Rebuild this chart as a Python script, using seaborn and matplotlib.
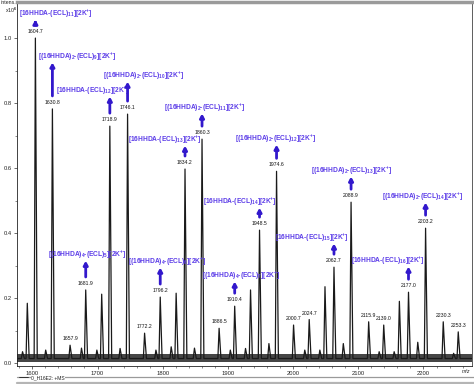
import numpy as np
import pandas as pd
import matplotlib
matplotlib.use("Agg")
import matplotlib.pyplot as plt
from matplotlib.lines import Line2D
import seaborn as sns

# ---------------- data ----------------
# labelled peaks (m/z, relative intensity x10^6)
labeled_mz = [1604.7, 1630.8, 1657.9, 1681.9, 1718.9, 1746.1, 1772.2, 1796.2,
              1834.2, 1860.3, 1886.5, 1910.4, 1948.5, 1974.6, 2000.7, 2024.7,
              2062.7, 2088.9, 2115.9, 2139.0, 2177.0, 2203.2, 2230.3, 2253.3]
labeled_int = [1.000, 0.782, 0.055, 0.225, 0.729, 0.766, 0.092, 0.203,
               0.597, 0.689, 0.107, 0.175, 0.409, 0.590, 0.117, 0.134,
               0.295, 0.495, 0.127, 0.117, 0.218, 0.415, 0.127, 0.096]
# unlabelled peaks
other_mz = [1585.0, 1592.3, 1620.5, 1675.4, 1699.0, 1706.4, 1734.6, 1789.6,
            1813.0, 1820.6, 1848.7, 1903.7, 1927.0, 1934.7, 1962.9, 2017.9,
            2041.0, 2048.9, 2077.0, 2132.0, 2155.0, 2163.0, 2191.2, 2246.2]
other_int = [0.035, 0.184, 0.040, 0.046, 0.040, 0.212, 0.045, 0.040,
             0.050, 0.215, 0.046, 0.040, 0.045, 0.225, 0.060, 0.040,
             0.040, 0.235, 0.060, 0.035, 0.035, 0.190, 0.064, 0.030]

# annotated species (peak m/z, formula)
ann_mz = [1604.7, 1630.8, 1718.9, 1746.1, 1834.2, 1860.3, 1974.6, 1948.5,
          2088.9, 2062.7, 2203.2, 2177.0, 1681.9, 1796.2, 1910.4]
ann_text = [
    r"[16HHDA-(ECL)$_{11}$][2K$^{+}$]",
    r"[(16HHDA)$_{2}$-(ECL)$_{9}$][2K$^{+}$]",
    r"[16HHDA-(ECL)$_{12}$][2K$^{+}$]",
    r"[(16HHDA)$_{2}$-(ECL)$_{10}$][2K$^{+}$]",
    r"[16HHDA-(ECL)$_{13}$][2K$^{+}$]",
    r"[(16HHDA)$_{2}$-(ECL)$_{11}$][2K$^{+}$]",
    r"[(16HHDA)$_{2}$-(ECL)$_{12}$][2K$^{+}$]",
    r"[16HHDA-(ECL)$_{14}$][2K$^{+}$]",
    r"[(16HHDA)$_{2}$-(ECL)$_{13}$][2K$^{+}$]",
    r"[16HHDA-(ECL)$_{15}$][2K$^{+}$]",
    r"[(16HHDA)$_{2}$-(ECL)$_{14}$][2K$^{+}$]",
    r"[16HHDA-(ECL)$_{16}$][2K$^{+}$]",
    r"[(16HHDA)$_{4}$-(ECL)$_{5}$][2K$^{+}$]",
    r"[(16HHDA)$_{4}$-(ECL)$_{6}$][2K$^{+}$]",
    r"[(16HHDA)$_{4}$-(ECL)$_{7}$][2K$^{+}$]",
]
# layout of the formula labels (text centre, data coords)
ann_tx = [1636.3, 1668.6, 1693.1, 1770.0, 1803.5, 1863.6, 1972.4, 1918.6,
          2090.3, 2029.0, 2197.8, 2145.6, 1684.0, 1806.6, 1920.0]
ann_ty = [1.074, 0.942, 0.837, 0.883, 0.686, 0.785, 0.689, 0.495,
          0.591, 0.385, 0.511, 0.314, 0.332, 0.311, 0.268]

xticks = [1600, 1700, 1800, 1900, 2000, 2100, 2200]
yticks = [0.0, 0.2, 0.4, 0.6, 0.8, 1.0]

# ---------------- style ----------------
sns.set_style("white")
plt.rcParams["font.family"] = ["Liberation Sans", "DejaVu Sans"]
plt.rcParams["mathtext.fontset"] = "custom"
plt.rcParams["mathtext.rm"] = "Liberation Sans:bold"
plt.rcParams["mathtext.it"] = "Liberation Sans:bold"
plt.rcParams["mathtext.bf"] = "Liberation Sans:bold"

fig = plt.figure(figsize=(4.74, 3.84), dpi=100)
ax = fig.add_axes([17 / 474, 1 - 366 / 384, 455 / 474, 364 / 384])

# profile spectrum built from the peak lists
base = 0.014
peaks = sorted(zip(labeled_mz + other_mz, labeled_int + other_int))
px, py = [1576.0], [base]
hw = 1.9
for m, h in peaks:
    px += [m - hw, m, m + hw * 1.5]
    py += [base, h, base]
px.append(2275.0)
py.append(base)
spec = pd.DataFrame({"mz": px, "intens": py})

ax.fill_between([1576, 2275], 0.004, 0.027, color="#464646", lw=0, zorder=1)
sns.lineplot(data=spec, x="mz", y="intens", estimator=None, sort=False,
             color="#1a1a1a", lw=0.9, ax=ax, zorder=2)

ax.set_xlim(1576.5, 2274.4)
ax.set_ylim(-0.009, 1.111)
ax.set_xlabel("")
ax.set_ylabel("")
ax.set_xticks(xticks)
ax.set_xticklabels([str(t) for t in xticks])
ax.set_xticks(np.arange(1580, 2275, 20), minor=True)
ax.set_yticks(yticks)
ax.set_yticklabels([f"{t:.1f}" for t in yticks])
ax.set_yticks(np.arange(0.1, 1.1, 0.2), minor=True)
ax.tick_params(axis="both", which="major", labelsize=4.2, length=2.2, width=0.5,
               color="#333333", pad=1.5, direction="out")
ax.tick_params(axis="both", which="minor", length=1.3, width=0.4, color="#333333")
ax.tick_params(axis="x", bottom=True, which="both")
ax.tick_params(axis="y", left=True, which="both")

for s in ["left", "bottom"]:
    ax.spines[s].set_color("#222222")
    ax.spines[s].set_linewidth(0.6)
ax.spines["right"].set_color("#444444")
ax.spines["right"].set_linewidth(0.6)
ax.spines["top"].set_color("#9a9a9a")
ax.spines["top"].set_linewidth(2.5)

# peak numbers
for m, h in zip(labeled_mz, labeled_int):
    ax.text(m, h + 0.012, f"{m:.1f}", ha="center", va="bottom", fontsize=3.7,
            color="#111111", zorder=4)

# formula labels with arrows
txt_col = "#5c3de8"
arr_col = "#3218cc"
inten_of = dict(zip(labeled_mz, labeled_int))
for m, t, tx, ty in zip(ann_mz, ann_text, ann_tx, ann_ty):
    h = inten_of[m]
    ax.text(tx, ty, t, ha="center", va="center", fontsize=4.8,
            fontweight="bold", color=txt_col, zorder=5)
    ax.annotate("", xy=(m, ty - 0.017), xytext=(m, h + 0.04),
                arrowprops=dict(arrowstyle="-|>,head_length=0.22,head_width=0.12",
                                lw=2.0, color=arr_col, shrinkA=0, shrinkB=0),
                zorder=5)

# axis captions
fig.text(1 / 474, 1 - 3 / 384, "intens.", fontsize=3.8, ha="left", va="center",
         color="#222222")
fig.text(5 / 474, 1 - 10 / 384, r"x10$^{6}$", fontsize=3.8, ha="left", va="center",
         color="#222222")
ax.text(2266, -0.018, "m/z", fontsize=3.8, style="italic", ha="center",
        va="top", color="#222222")

# legend strip at the bottom
fig.add_artist(Line2D([17 / 474, 1.0], [1 - 377 / 384] * 2, color="#9a9a9a",
                      lw=0.9, transform=fig.transFigure))
fig.add_artist(Line2D([17 / 474, 1.0], [1 - 383 / 384] * 2, color="#b5b5b5",
                      lw=1.6, transform=fig.transFigure))
fig.add_artist(Line2D([19 / 474, 28 / 474], [1 - 377 / 384] * 2, color="#222222",
                      lw=0.6, transform=fig.transFigure))
fig.text(31 / 474, 1 - 377.5 / 384, "0_H16E2: +MS", fontsize=3.6, ha="left",
         va="center", color="#222222",
         bbox=dict(boxstyle="square,pad=0.1", fc="white", ec="none"))

fig.savefig("out.png", dpi=100)
